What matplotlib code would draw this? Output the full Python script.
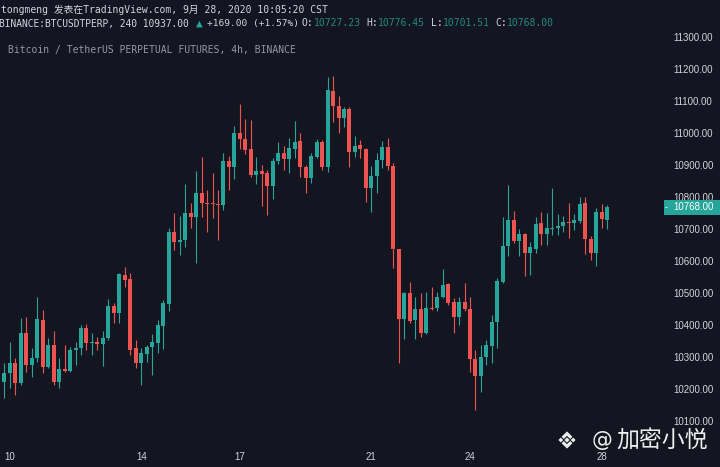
"""
BTCUSDT perpetual, 4h candles, Sep 10 - Sep 28 2020 (TradingView dark look)
"""

import matplotlib
matplotlib.use("Agg")
import matplotlib.pyplot as plt
from matplotlib.patches import Polygon, Rectangle
from matplotlib.transforms import blended_transform_factory

# ── Data ─────────────────────────────────────────────────────────────────────
opens = [
    10223, 10249, 10282, 10220, 10374, 10275, 10296, 10416, 10270, 10339,
    10223, 10261, 10256, 10322, 10327, 10392, 10343, 10348, 10341, 10360,
    10460, 10439, 10556, 10543, 10327, 10282, 10309, 10330, 10345, 10398,
    10466, 10692, 10660, 10666, 10751, 10736, 10814, 10782, 10782, 10778,
    10775, 10912, 10895, 10999, 10980, 10949, 10869, 10881, 10874, 10834,
    10912, 10936, 10919, 10949, 10975, 10895, 10858, 10926, 10973, 10893,
    11132, 11084, 11048, 11075, 10942, 10962, 10949, 10829, 10866, 10916,
    10955, 10897, 10636, 10418, 10499, 10416, 10449, 10376, 10454, 10452,
    10488, 10527, 10473, 10424, 10471, 10449, 10293, 10240, 10301, 10334,
    10408, 10535, 10647, 10728, 10662, 10684, 10626, 10639, 10719, 10684,
    10700, 10704, 10708, 10723, 10718, 10726, 10780, 10669, 10624, 10753,
    10727.23,
]
highs = [
    10280, 10348, 10298, 10421, 10424, 10327, 10486, 10447, 10358, 10382,
    10296, 10337, 10332, 10348, 10400, 10403, 10374, 10363, 10382, 10480,
    10468, 10561, 10582, 10561, 10353, 10327, 10337, 10372, 10416, 10478,
    10702, 10749, 10740, 10840, 10780, 10881, 10924, 10822, 10874, 10822,
    10938, 10928, 11023, 11091, 11043, 11041, 10926, 10900, 10884, 10921,
    10973, 10959, 10983, 11037, 11001, 10900, 10936, 10980, 10978, 11176,
    11178, 11116, 11082, 11082, 10991, 10978, 10952, 10897, 10938, 10976,
    10983, 10907, 10639, 10504, 10535, 10488, 10501, 10504, 10520, 10504,
    10574, 10532, 10483, 10488, 10532, 10488, 10322, 10337, 10353, 10431,
    10546, 10738, 10837, 10756, 10699, 10686, 10660, 10738, 10753, 10750,
    10828, 10748, 10741, 10781, 10747, 10799, 10799, 10678, 10765, 10778,
    10776.45,
]
lows = [
    10172, 10202, 10181, 10212, 10254, 10238, 10285, 10251, 10265, 10212,
    10202, 10254, 10254, 10275, 10306, 10322, 10306, 10322, 10272, 10353,
    10407, 10405, 10520, 10306, 10265, 10212, 10285, 10244, 10311, 10324,
    10445, 10634, 10620, 10645, 10702, 10595, 10738, 10692, 10733, 10666,
    10759, 10822, 10855, 10949, 10934, 10863, 10841, 10772, 10744, 10793,
    10903, 10884, 10874, 10921, 10863, 10811, 10843, 10921, 10884, 10879,
    11035, 11001, 11020, 10893, 10926, 10922, 10785, 10754, 10813, 10890,
    10884, 10577, 10282, 10355, 10405, 10355, 10361, 10372, 10447, 10445,
    10483, 10462, 10376, 10400, 10445, 10254, 10134, 10191, 10275, 10280,
    10327, 10532, 10616, 10657, 10616, 10553, 10556, 10626, 10650, 10650,
    10681, 10681, 10691, 10672, 10697, 10720, 10621, 10603, 10584, 10702,
    10701.51,
]
closes = [
    10249, 10280, 10220, 10374, 10275, 10296, 10418, 10270, 10337, 10223,
    10261, 10256, 10322, 10327, 10392, 10343, 10345, 10341, 10360, 10460,
    10439, 10558, 10541, 10322, 10282, 10311, 10332, 10348, 10400, 10470,
    10692, 10660, 10666, 10749, 10736, 10814, 10782, 10778, 10778, 10774,
    10912, 10895, 10999, 10980, 10947, 10869, 10881, 10872, 10834, 10913,
    10936, 10919, 10952, 10973, 10893, 10858, 10928, 10973, 10893, 11134,
    11084, 11048, 11076, 10942, 10959, 10950, 10829, 10866, 10916, 10955,
    10897, 10636, 10418, 10499, 10413, 10449, 10374, 10452, 10449, 10488,
    10525, 10470, 10424, 10471, 10449, 10293, 10240, 10301, 10337, 10410,
    10537, 10647, 10728, 10662, 10684, 10626, 10643, 10716, 10684, 10703,
    10704, 10710, 10723, 10718, 10727, 10778, 10668, 10624, 10753, 10730,
    10768.00,
]

# candle index of each day boundary (CST) and its label
day_idx    = [1, 25, 43, 67, 85, 109]
day_labels = ["10", "14", "17", "21", "24", "28"]
price_ticks = [10100, 10200, 10300, 10400, 10500, 10600, 10700,
               10800, 10900, 11000, 11100, 11200, 11300]

# ── Style ────────────────────────────────────────────────────────────────────
BG    = "#131620"
UP    = "#26a69a"
DOWN  = "#ef5350"
TXT   = "#d1d4dc"
DIM   = "#9598a1"
TEAL  = "#22897e"
MONO  = ["DejaVu Sans Mono", "Noto Sans CJK SC"]

W, H = 720, 467
fig = plt.figure(figsize=(W / 100, H / 100), dpi=100, facecolor=BG)

# main price axes: pixels x 0..662, y 0..440
ax = fig.add_axes([0, (H - 440) / H, 662 / W, 440 / H], facecolor=BG)
for s in ax.spines.values():
    s.set_visible(False)

# ── Candles ──────────────────────────────────────────────────────────────────
xs   = list(range(len(closes)))
cols = [UP if c >= o else DOWN for o, c in zip(opens, closes)]
ax.vlines(xs, lows, highs, colors=cols, linewidth=0.8, zorder=2)
bottoms = [min(o, c) for o, c in zip(opens, closes)]
heights = [max(abs(c - o), 3) for o, c in zip(opens, closes)]
ax.bar(xs, heights, bottom=bottoms, width=0.73, color=cols, linewidth=0, zorder=3)

ax.set_xlim(-0.785, 120.04)
ax.set_ylim(10040.6, 11415.6)

ax.set_xticks(day_idx)
ax.set_xticklabels(day_labels)
ax.set_yticks(price_ticks)
ax.set_yticklabels([f"{p:.2f}" for p in price_ticks])
ax.yaxis.tick_right()
ax.tick_params(axis="y", length=0, pad=8, labelsize=7, labelcolor=TXT)
ax.tick_params(axis="x", length=0, pad=9, labelsize=7, labelcolor=TXT)
for lab in ax.get_xticklabels() + ax.get_yticklabels():
    lab.set_family("Liberation Sans")

# last price tag on the price scale
trans = blended_transform_factory(ax.transAxes, ax.transData)
last = closes[-1]
ax.add_patch(Rectangle((1.003, last - 24), 0.09, 48, transform=trans,
                       facecolor=UP, edgecolor="none", clip_on=False, zorder=6))
ax.text(1.0166, last, f"{last:.2f}", transform=trans, color="white",
        fontsize=7, family="Liberation Sans", va="center", ha="left",
        clip_on=False, zorder=7)
ax.text(1.004, last, "-", transform=trans, color="white", fontsize=6,
        va="center", ha="left", clip_on=False, zorder=7)

# ── Overlay in pixel coordinates: header + watermark ─────────────────────────
ov = fig.add_axes([0, 0, 1, 1], facecolor="none")
ov.set_xlim(0, W)
ov.set_ylim(H, 0)
ov.axis("off")

ov.text(1, 10, "tongmeng 发表在TradingView.com, 9月 28, 2020 10:05:20 CST",
        color=TXT, fontsize=7, family=MONO, va="center")

y2 = 23.5
ov.text(-1, y2, "BINANCE:BTCUSDTPERP, 240 10937.00", color=TXT,
        fontsize=6.9, family=MONO, va="center")
ov.text(196, y2, "▲", color=UP, fontsize=8, family=MONO, va="center")
ov.text(207, y2, "+169.00 (+1.57%)", color=TXT, fontsize=6.8, family=MONO, va="center")
for lx, lab, val in [(302, "O:", "10727.23"), (366, "H:", "10776.45"),
                     (431, "L:", "10701.51"), (495, "C:", "10768.00")]:
    ov.text(lx, y2, lab, color=TXT, fontsize=7, family=MONO, va="center")
    ov.text(lx + 12, y2, val, color=TEAL, fontsize=7, family=MONO, va="center")

ov.text(7.5, 50.5, "Bitcoin / TetherUS PERPETUAL FUTURES, 4h, BINANCE",
        color=DIM, fontsize=7, family=MONO, va="center")

# watermark: binance-ish logo + handle
cx, cy = 567, 440
logo = [
    [(0, -2.6), (2.6, 0), (0, 2.6), (-2.6, 0)],
    [(-6.2, -2.4), (-3.8, 0), (-6.2, 2.4), (-8.6, 0)],
    [(6.2, -2.4), (8.6, 0), (6.2, 2.4), (3.8, 0)],
    [(0, -8.6), (5.4, -3.2), (3.2, -1.0), (0, -4.2), (-3.2, -1.0), (-5.4, -3.2)],
    [(0, 8.6), (5.4, 3.2), (3.2, 1.0), (0, 4.2), (-3.2, 1.0), (-5.4, 3.2)],
]
for pts in logo:
    ov.add_patch(Polygon([(cx + dx, cy + dy) for dx, dy in pts],
                         closed=True, facecolor="#eeeeee", edgecolor="none"))
ov.text(602, 440, "@", color="#eeeeee", fontsize=15,
        family=["DejaVu Sans"], va="center", ha="center")
ov.text(616, 441, "加密小悦", color="#eeeeee", fontsize=16.5,
        family=["Noto Sans CJK SC"], va="center", ha="left")

fig.savefig("out.png", dpi=100, facecolor=BG)
plt.close(fig)
